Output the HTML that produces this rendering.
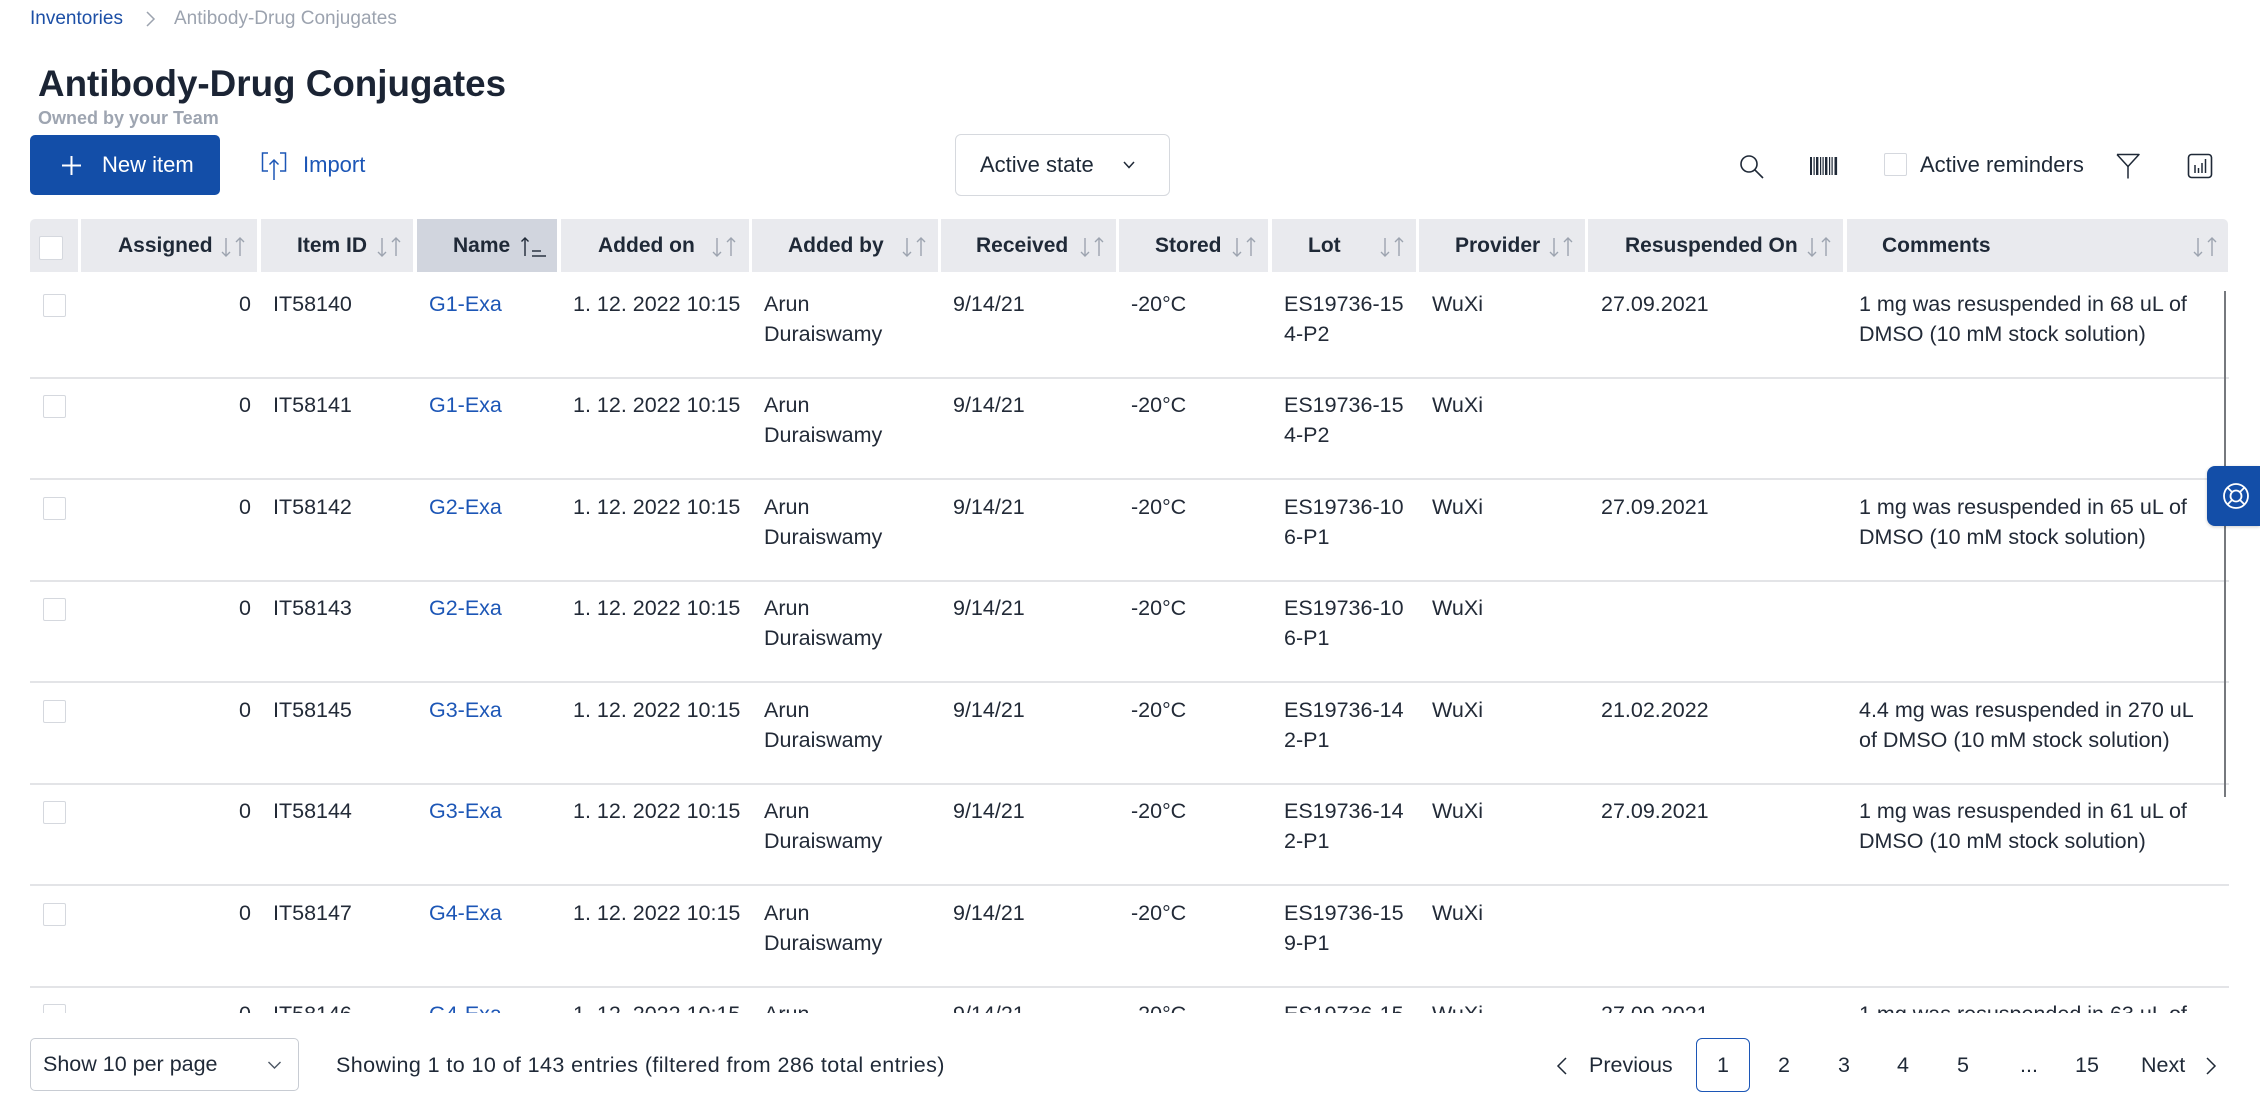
<!DOCTYPE html>
<html>
<head>
<meta charset="utf-8">
<style>
*{margin:0;padding:0;box-sizing:border-box;}
html,body{width:2260px;height:1110px;overflow:hidden;background:#fff;font-family:"Liberation Sans",Arial,sans-serif;color:#1f2937;}
.a{position:absolute;white-space:nowrap;}
.hc{position:absolute;top:219px;height:53px;background:#e9eaee;}
.ht{position:absolute;top:219px;line-height:54px;font-size:21px;font-weight:bold;color:#1f2937;white-space:nowrap;}
.si{position:absolute;top:236px;width:26px;height:22px;}
#body{position:absolute;left:0;top:273px;width:2260px;height:740px;overflow:hidden;}
.row{position:absolute;left:0;width:2260px;height:102px;}
.row .c{position:absolute;top:13px;line-height:30px;font-size:21.5px;white-space:nowrap;color:#222a37;}
.row .cb{position:absolute;left:43px;top:18px;width:23px;height:23px;border:1.5px solid #d5d8de;border-radius:2px;background:#fff;}
.row .sep{position:absolute;left:30px;width:2199px;top:101px;height:2px;background:#e3e4e7;}
.row .n{right:2009px;}
.c1{left:273px}.c2{left:429px;color:#1c56b6 !important}.c3{left:573px}.c4{left:764px}.c5{left:953px}.c6{left:1131px}.c7{left:1284px}.c8{left:1432px}.c9{left:1601px}.c10{left:1859px}
.pg{position:absolute;top:1038px;line-height:54px;font-size:21.5px;color:#1f2937;white-space:nowrap;}
</style>
</head>
<body>

<!-- breadcrumb -->
<div class="a" style="left:30px;top:9px;font-size:19px;line-height:19px;color:#1c4fa6;">Inventories</div>
<svg class="a" style="left:144px;top:10px" width="12" height="18" viewBox="0 0 12 18"><polyline points="3,2 10,9 3,16" fill="none" stroke="#9ca3af" stroke-width="1.5"/></svg>
<div class="a" style="left:174px;top:9px;font-size:19px;line-height:19px;color:#9ca3af;">Antibody-Drug Conjugates</div>

<!-- title -->
<div class="a" style="left:38px;top:66.2px;font-size:36.8px;line-height:36.8px;font-weight:bold;color:#1b2434;">Antibody-Drug Conjugates</div>
<div class="a" style="left:38px;top:108.8px;font-size:18px;line-height:18px;font-weight:bold;color:#9ea5b1;">Owned by your Team</div>

<!-- new item button -->
<div class="a" style="left:30px;top:135px;width:190px;height:60px;background:#134ea8;border-radius:5px;"></div>
<svg class="a" style="left:61px;top:155px" width="21" height="21" viewBox="0 0 21 21"><line x1="10.5" y1="1" x2="10.5" y2="20" stroke="#fff" stroke-width="2"/><line x1="1" y1="10.5" x2="20" y2="10.5" stroke="#fff" stroke-width="2"/></svg>
<div class="a" style="left:102px;top:154.4px;font-size:22px;line-height:22px;color:#fff;">New item</div>

<!-- import -->
<svg class="a" style="left:261px;top:151px" width="26" height="30" viewBox="0 0 26 30"><polyline points="7,2 1.5,2 1.5,20 7,20" fill="none" stroke="#1c56b6" stroke-width="1.5"/><polyline points="19,2 24.5,2 24.5,20 19,20" fill="none" stroke="#1c56b6" stroke-width="1.5"/><line x1="13" y1="9" x2="13" y2="29" stroke="#1c56b6" stroke-width="1.5"/><polyline points="8.5,13.5 13,9 17.5,13.5" fill="none" stroke="#1c56b6" stroke-width="1.5"/></svg>
<div class="a" style="left:303px;top:154.4px;font-size:22px;line-height:22px;color:#1c56b6;">Import</div>

<!-- active state -->
<div class="a" style="left:955px;top:134px;width:215px;height:62px;border:1.5px solid #d6d9de;border-radius:6px;"></div>
<div class="a" style="left:980px;top:154.4px;font-size:22px;line-height:22px;color:#1f2937;">Active state</div>
<svg class="a" style="left:1122px;top:160px" width="14" height="10" viewBox="0 0 14 10"><polyline points="2,2 7,7.5 12,2" fill="none" stroke="#1f2937" stroke-width="1.5"/></svg>

<!-- right toolbar -->
<svg class="a" style="left:1738px;top:153px" width="28" height="28" viewBox="0 0 28 28"><circle cx="11" cy="11" r="8" fill="none" stroke="#1f2937" stroke-width="1.6"/><line x1="16.8" y1="16.8" x2="25" y2="25" stroke="#1f2937" stroke-width="1.6"/></svg>
<svg class="a" style="left:1810px;top:157px" width="28" height="18" viewBox="0 0 28 18"><g fill="#1f2937"><rect x="0" y="0" width="2" height="18"/><rect x="3.5" y="0" width="1.2" height="18"/><rect x="6" y="0" width="2.4" height="18"/><rect x="10" y="0" width="1.2" height="18"/><rect x="12.5" y="0" width="1.2" height="18"/><rect x="15" y="0" width="2.4" height="18"/><rect x="19" y="0" width="1.2" height="18"/><rect x="21.5" y="0" width="1.2" height="18"/><rect x="24.5" y="0" width="2.6" height="18"/></g></svg>
<div class="a" style="left:1884px;top:153px;width:23px;height:23px;border:1.5px solid #d5d8de;border-radius:2px;"></div>
<div class="a" style="left:1920px;top:154.4px;font-size:22px;line-height:22px;color:#1f2937;">Active reminders</div>
<svg class="a" style="left:2116px;top:153px" width="24" height="26" viewBox="0 0 24 26"><polyline points="1,1.5 23,1.5 12,13.5 1,1.5" fill="none" stroke="#1f2937" stroke-width="1.5" stroke-linejoin="round"/><line x1="12" y1="13.5" x2="12" y2="25.5" stroke="#1f2937" stroke-width="1.5"/></svg>
<svg class="a" style="left:2187px;top:153px" width="26" height="26" viewBox="0 0 26 26"><rect x="1.5" y="1.5" width="23" height="23" rx="3" fill="none" stroke="#1f2937" stroke-width="1.6"/><line x1="8" y1="12" x2="8" y2="20" stroke="#1f2937" stroke-width="1.5"/><line x1="11.5" y1="15" x2="11.5" y2="20" stroke="#1f2937" stroke-width="1.5"/><line x1="15" y1="10" x2="15" y2="20" stroke="#1f2937" stroke-width="1.5"/><line x1="18.5" y1="6" x2="18.5" y2="20" stroke="#1f2937" stroke-width="1.5"/></svg>

<!-- header cells -->
<div class="hc" style="left:30px;width:48px;border-top-left-radius:5px;"></div>
<div class="a" style="left:39px;top:236px;width:24px;height:24px;background:#fff;border:1.5px solid #d5d8de;border-radius:2px;"></div>
<div class="hc" style="left:81px;width:176px;"></div>
<div class="hc" style="left:261px;width:152px;"></div>
<div class="hc" style="left:417px;width:140px;background:#d1d5de;"></div>
<div class="hc" style="left:561px;width:188px;"></div>
<div class="hc" style="left:752px;width:186px;"></div>
<div class="hc" style="left:941px;width:175px;"></div>
<div class="hc" style="left:1119px;width:149px;"></div>
<div class="hc" style="left:1272px;width:144px;"></div>
<div class="hc" style="left:1419px;width:166px;"></div>
<div class="hc" style="left:1588px;width:255px;"></div>
<div class="hc" style="left:1847px;width:381px;border-top-right-radius:5px;"></div>

<div class="ht" style="left:118px">Assigned</div>
<div class="ht" style="left:297px">Item ID</div>
<div class="ht" style="left:453px">Name</div>
<div class="ht" style="left:598px">Added on</div>
<div class="ht" style="left:788px">Added by</div>
<div class="ht" style="left:976px">Received</div>
<div class="ht" style="left:1155px">Stored</div>
<div class="ht" style="left:1308px">Lot</div>
<div class="ht" style="left:1455px">Provider</div>
<div class="ht" style="left:1625px">Resuspended On</div>
<div class="ht" style="left:1882px">Comments</div>

<!-- sort icons -->
<svg width="0" height="0" style="position:absolute"><defs><g id="srt" fill="none" stroke="#9ca3af" stroke-width="1.4"><line x1="6" y1="2" x2="6" y2="20"/><polyline points="2,16 6,20 10,16"/><line x1="20" y1="20" x2="20" y2="2"/><polyline points="16,6 20,2 24,6"/></g></defs></svg>
<svg class="si" style="left:220px" viewBox="0 0 26 22"><use href="#srt"/></svg>
<svg class="si" style="left:376px" viewBox="0 0 26 22"><use href="#srt"/></svg>
<svg class="si" style="left:521px" viewBox="0 0 26 22"><g fill="none" stroke="#1f2937" stroke-width="1.4"><line x1="4" y1="20" x2="4" y2="2"/><polyline points="0.5,5.5 4,2 7.5,5.5"/><line x1="11" y1="15" x2="20" y2="15"/><line x1="11" y1="20" x2="25" y2="20"/></g></svg>
<svg class="si" style="left:711px" viewBox="0 0 26 22"><use href="#srt"/></svg>
<svg class="si" style="left:901px" viewBox="0 0 26 22"><use href="#srt"/></svg>
<svg class="si" style="left:1079px" viewBox="0 0 26 22"><use href="#srt"/></svg>
<svg class="si" style="left:1231px" viewBox="0 0 26 22"><use href="#srt"/></svg>
<svg class="si" style="left:1379px" viewBox="0 0 26 22"><use href="#srt"/></svg>
<svg class="si" style="left:1548px" viewBox="0 0 26 22"><use href="#srt"/></svg>
<svg class="si" style="left:1806px" viewBox="0 0 26 22"><use href="#srt"/></svg>
<svg class="si" style="left:2192px" viewBox="0 0 26 22"><use href="#srt"/></svg>

<!-- body -->
<div id="body">
<div class="row" style="top:3px"><div class="cb"></div><div class="c n">0</div><div class="c c1">IT58140</div><div class="c c2">G1-Exa</div><div class="c c3">1. 12. 2022 10:15</div><div class="c c4">Arun<br>Duraiswamy</div><div class="c c5">9/14/21</div><div class="c c6">-20°C</div><div class="c c7">ES19736-15<br>4-P2</div><div class="c c8">WuXi</div><div class="c c9">27.09.2021</div><div class="c c10">1 mg was resuspended in 68 uL of<br>DMSO (10 mM stock solution)</div><div class="sep"></div></div>
<div class="row" style="top:104px"><div class="cb"></div><div class="c n">0</div><div class="c c1">IT58141</div><div class="c c2">G1-Exa</div><div class="c c3">1. 12. 2022 10:15</div><div class="c c4">Arun<br>Duraiswamy</div><div class="c c5">9/14/21</div><div class="c c6">-20°C</div><div class="c c7">ES19736-15<br>4-P2</div><div class="c c8">WuXi</div><div class="sep"></div></div>
<div class="row" style="top:206px"><div class="cb"></div><div class="c n">0</div><div class="c c1">IT58142</div><div class="c c2">G2-Exa</div><div class="c c3">1. 12. 2022 10:15</div><div class="c c4">Arun<br>Duraiswamy</div><div class="c c5">9/14/21</div><div class="c c6">-20°C</div><div class="c c7">ES19736-10<br>6-P1</div><div class="c c8">WuXi</div><div class="c c9">27.09.2021</div><div class="c c10">1 mg was resuspended in 65 uL of<br>DMSO (10 mM stock solution)</div><div class="sep"></div></div>
<div class="row" style="top:307px"><div class="cb"></div><div class="c n">0</div><div class="c c1">IT58143</div><div class="c c2">G2-Exa</div><div class="c c3">1. 12. 2022 10:15</div><div class="c c4">Arun<br>Duraiswamy</div><div class="c c5">9/14/21</div><div class="c c6">-20°C</div><div class="c c7">ES19736-10<br>6-P1</div><div class="c c8">WuXi</div><div class="sep"></div></div>
<div class="row" style="top:409px"><div class="cb"></div><div class="c n">0</div><div class="c c1">IT58145</div><div class="c c2">G3-Exa</div><div class="c c3">1. 12. 2022 10:15</div><div class="c c4">Arun<br>Duraiswamy</div><div class="c c5">9/14/21</div><div class="c c6">-20°C</div><div class="c c7">ES19736-14<br>2-P1</div><div class="c c8">WuXi</div><div class="c c9">21.02.2022</div><div class="c c10">4.4 mg was resuspended in 270 uL<br>of DMSO (10 mM stock solution)</div><div class="sep"></div></div>
<div class="row" style="top:510px"><div class="cb"></div><div class="c n">0</div><div class="c c1">IT58144</div><div class="c c2">G3-Exa</div><div class="c c3">1. 12. 2022 10:15</div><div class="c c4">Arun<br>Duraiswamy</div><div class="c c5">9/14/21</div><div class="c c6">-20°C</div><div class="c c7">ES19736-14<br>2-P1</div><div class="c c8">WuXi</div><div class="c c9">27.09.2021</div><div class="c c10">1 mg was resuspended in 61 uL of<br>DMSO (10 mM stock solution)</div><div class="sep"></div></div>
<div class="row" style="top:612px"><div class="cb"></div><div class="c n">0</div><div class="c c1">IT58147</div><div class="c c2">G4-Exa</div><div class="c c3">1. 12. 2022 10:15</div><div class="c c4">Arun<br>Duraiswamy</div><div class="c c5">9/14/21</div><div class="c c6">-20°C</div><div class="c c7">ES19736-15<br>9-P1</div><div class="c c8">WuXi</div><div class="sep"></div></div>
<div class="row" style="top:713px"><div class="cb"></div><div class="c n">0</div><div class="c c1">IT58146</div><div class="c c2">G4-Exa</div><div class="c c3">1. 12. 2022 10:15</div><div class="c c4">Arun<br>Duraiswamy</div><div class="c c5">9/14/21</div><div class="c c6">-20°C</div><div class="c c7">ES19736-15<br>9-P1</div><div class="c c8">WuXi</div><div class="c c9">27.09.2021</div><div class="c c10">1 mg was resuspended in 63 uL of<br>DMSO (10 mM stock solution)</div><div class="sep"></div></div>
</div>

<!-- scrollbar -->
<div class="a" style="left:2224px;top:291px;width:2px;height:506px;background:#76797e;"></div>

<!-- help tab -->
<div class="a" style="left:2207px;top:466px;width:53px;height:60px;background:#134ea8;border-radius:8px 0 0 8px;box-shadow:0 1px 3px rgba(0,0,0,0.2);"></div>
<svg class="a" style="left:2222px;top:482px" width="28" height="28" viewBox="0 0 28 28"><g fill="none" stroke="#fff" stroke-width="1.8"><circle cx="14" cy="14" r="12"/><circle cx="14" cy="14" r="5.5"/><line x1="6" y1="6" x2="10" y2="10"/><line x1="22" y1="6" x2="18" y2="10"/><line x1="6" y1="22" x2="10" y2="18"/><line x1="22" y1="22" x2="18" y2="18"/></g></svg>

<!-- footer -->
<div class="a" style="left:30px;top:1038px;width:269px;height:53px;border:1.5px solid #c8ccd3;border-radius:5px;"></div>
<div class="a" style="left:43px;top:1038px;line-height:53px;font-size:21.5px;color:#1f2937;">Show 10 per page</div>
<svg class="a" style="left:267px;top:1060px" width="15" height="10" viewBox="0 0 15 10"><polyline points="1.5,2 7.5,8 13.5,2" fill="none" stroke="#4b5563" stroke-width="1.4"/></svg>
<div class="a" style="left:336px;top:1038px;line-height:54px;font-size:21.5px;letter-spacing:0.4px;color:#1f2937;">Showing 1 to 10 of 143 entries (filtered from 286 total entries)</div>

<svg class="a" style="left:1556px;top:1056px" width="12" height="20" viewBox="0 0 12 20"><polyline points="10,2 2,10 10,18" fill="none" stroke="#1f2937" stroke-width="1.5"/></svg>
<div class="pg" style="left:1589px">Previous</div>
<div class="a" style="left:1696px;top:1038px;width:54px;height:54px;border:1.5px solid #1c56b6;border-radius:6px;"></div>
<div class="pg" style="left:1696px;width:54px;text-align:center;">1</div>
<div class="pg" style="left:1778px">2</div>
<div class="pg" style="left:1838px">3</div>
<div class="pg" style="left:1897px">4</div>
<div class="pg" style="left:1957px">5</div>
<div class="pg" style="left:2020px">...</div>
<div class="pg" style="left:2075px">15</div>
<div class="pg" style="left:2141px">Next</div>
<svg class="a" style="left:2205px;top:1056px" width="12" height="20" viewBox="0 0 12 20"><polyline points="2,2 10,10 2,18" fill="none" stroke="#1f2937" stroke-width="1.5"/></svg>

</body>
</html>
